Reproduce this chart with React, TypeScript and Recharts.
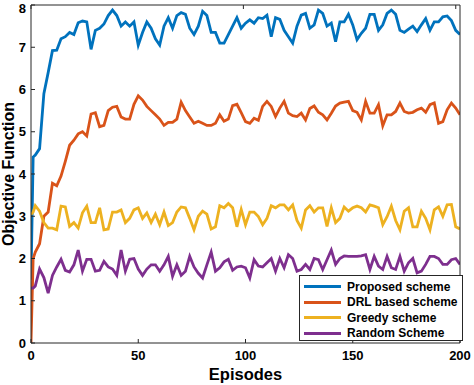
import { LineChart, Line, XAxis, YAxis, Legend } from 'recharts'

const FONT = '"Liberation Sans", Arial, Helvetica, sans-serif'
const AXIS = '#262626'

// episode index of every sample (first episodes, then every 2nd one)
const episodes = [0, 1, ...Array.from({ length: 100 }, (_, i) => 2 * (i + 1))]

const proposed = [
  1.5, 4.4, 4.45, 4.6, 5.9, 6.4, 6.92, 6.93, 7.2, 7.25,
  7.35, 7.3, 7.58, 7.62, 7.6, 6.95, 7.4, 7.45, 7.55, 7.75,
  7.88, 7.75, 7.5, 7.6, 7.5, 7.6, 7.05, 7.35, 7.6, 7.45,
  7.2, 7.05, 7.5, 7.7, 7.45, 7.75, 7.82, 7.78, 7.45, 7.3,
  7.5, 7.85, 7.75, 7.35, 7.35, 7.1, 7.1, 7.3, 7.5, 7.7,
  7.45,
  7.57, 7.65, 7.57, 7.7, 7.68, 7.76, 7.25, 7.7, 7.66, 7.4,
  7.25, 7.1, 7.5, 7.76, 7.8, 7.45, 7.53, 7.88, 7.8, 7.5,
  7.57, 7.13, 7.6, 7.6, 7.78, 7.53, 7.18, 7.33, 7.45, 7.78,
  7.78, 7.4, 7.53, 7.8, 7.88, 7.78, 7.4, 7.35, 7.43, 7.5,
  7.37, 7.53, 7.68, 7.4, 7.6, 7.6, 7.72, 7.74, 7.63, 7.4,
  7.3,
]

const drl = [
  0, 2.0, 2.15, 2.35, 3.0, 3.1, 3.78, 3.72, 3.95, 4.3,
  4.68, 4.8, 4.95, 5.0, 4.9, 5.42, 5.45, 5.12, 5.15, 5.5,
  5.58, 5.6, 5.35, 5.3, 5.3, 5.65, 5.85, 5.75, 5.6, 5.5,
  5.4, 5.3, 5.15, 5.22, 5.22, 5.3, 5.7, 5.5, 5.35, 5.2,
  5.25, 5.2, 5.15, 5.15, 5.2, 5.4, 5.25, 5.3, 5.62, 5.65,
  5.45,
  5.24, 5.2, 5.32, 5.27, 5.6, 5.72, 5.6, 5.36, 5.56, 5.72,
  5.44, 5.38, 5.36, 5.44, 5.28, 5.55, 5.61, 5.46, 5.4, 5.28,
  5.44, 5.61, 5.68, 5.7, 5.72, 5.5, 5.46, 5.28, 5.72, 5.44,
  5.44, 5.64, 5.14, 5.4, 5.4, 5.48, 5.68, 5.48, 5.44, 5.46,
  5.52, 5.56, 5.46, 5.64, 5.68, 5.2, 5.24, 5.52, 5.68, 5.56,
  5.4,
]

const greedy = [
  3.04, 3.1, 3.25, 3.12, 2.85, 2.72, 2.72, 2.68, 3.24, 3.22,
  2.76, 2.85, 2.72, 3.08, 3.24, 2.85, 2.85, 3.2, 2.68, 2.7,
  3.1, 3.1, 3.15, 2.85, 2.95, 3.15, 3.2, 2.95, 3.08, 2.85,
  3.05, 2.8, 3.1, 2.78, 2.85, 3.1, 3.22, 3.2, 2.95, 2.68,
  3.0, 3.12, 3.05, 2.7, 2.75, 3.25, 3.2, 3.3, 3.2, 2.75,
  3.16,
  2.8, 3.1, 3.1, 2.99, 2.8, 2.95, 3.25, 3.2, 3.27, 3.27,
  3.15, 3.27, 2.9, 2.72, 3.15, 3.25, 3.1, 3.2, 3.2, 2.76,
  3.2, 2.85, 2.95, 3.22, 3.12, 3.2, 3.24, 3.2, 3.1, 3.27,
  3.24, 3.2, 2.8, 2.99, 3.24, 2.9, 2.68, 3.12, 3.2, 2.75,
  2.75, 3.12, 2.95, 2.68, 3.15, 3.22, 3.0, 3.27, 3.28, 2.75,
  2.7,
]

const random = [
  1.3, 1.3, 1.35, 1.75, 1.55, 1.18, 1.6, 1.8, 1.98, 1.72,
  1.68, 1.85, 2.2, 1.7, 1.98, 1.98, 1.7, 1.72, 1.93, 1.8,
  1.75, 1.6, 2.2, 1.7, 1.98, 2.0, 1.75, 1.6, 1.75, 1.85,
  1.85, 1.7, 1.85, 2.05, 1.58, 1.85, 1.6, 1.7, 2.05, 1.8,
  1.65, 1.54, 1.85, 2.15, 1.7, 1.78, 1.92, 1.98, 1.72, 1.8,
  1.82,
  1.78, 1.54, 1.97, 1.82, 1.8, 1.9, 2.0, 1.7, 2.0, 1.78,
  2.09, 2.0, 1.7, 1.74, 1.86, 1.74, 2.0, 1.97, 1.74, 1.97,
  2.2, 1.86, 2.0, 2.06, 2.05, 2.05, 2.05, 2.06, 2.09, 1.74,
  2.05, 1.82, 1.74, 2.05, 1.78, 1.74, 2.05, 1.7, 1.9, 2.0,
  1.66, 1.7, 1.86, 2.05, 2.05, 2.0, 1.86, 1.86, 1.97, 2.0,
  1.86,
]

const seriesNames = ['Proposed scheme', 'DRL based scheme', 'Greedy scheme', 'Random Scheme']
const xTicks = [0, 50, 100, 150, 200]
const yTicks = [0, 1, 2, 3, 4, 5, 6, 7, 8]

const data = episodes.map((ep, i) => ({
  ep,
  proposed: proposed[i],
  drl: drl[i],
  greedy: greedy[i],
  random: random[i],
}))

const tickStyle = { fill: '#000', fontSize: 13, fontWeight: 'bold', fontFamily: FONT }

function LegendBox({ payload }: any) {
  const items = [...(payload ?? [])].sort(
    (a: any, b: any) => seriesNames.indexOf(a.value) - seriesNames.indexOf(b.value),
  )
  return (
    <div
      style={{
        width: 164,
        height: 66,
        boxSizing: 'border-box',
        border: `1px solid ${AXIS}`,
        background: '#fff',
        padding: '3px 0 0 4px',
        overflow: 'hidden',
      }}
    >
      {items.map((p: any) => (
        <div key={p.value} style={{ display: 'flex', alignItems: 'center', height: 15.5 }}>
          <span style={{ width: 37, height: 3, background: p.color, marginRight: 6, flex: 'none' }} />
          <span style={{ font: `bold 12px ${FONT}`, color: '#000', whiteSpace: 'nowrap' }}>{p.value}</span>
        </div>
      ))}
    </div>
  )
}

export default function App() {
  return (
    <div style={{ width: 474, height: 385, background: '#fff' }}>
      <style>{'body{margin:0}'}</style>
      <LineChart width={474} height={385} data={data} margin={{ top: 4, right: 13, bottom: 0, left: 0 }}>
        <XAxis
          dataKey="ep"
          type="number"
          domain={[0, 200]}
          ticks={xTicks}
          allowDataOverflow
          height={42}
          stroke={AXIS}
          tickSize={-4}
          tickMargin={12}
          tick={tickStyle}
          label={() => (
            <text x={245.5} y={380} textAnchor="middle" fontFamily={FONT} fontSize={16.5} fontWeight="bold" fill="#000">
              Episodes
            </text>
          )}
        />
        <XAxis
          xAxisId="top"
          orientation="top"
          type="number"
          domain={[0, 200]}
          ticks={xTicks}
          height={1}
          stroke={AXIS}
          tickSize={-4}
          tickFormatter={() => ''}
        />
        <YAxis
          type="number"
          domain={[0, 8]}
          ticks={yTicks}
          allowDataOverflow
          width={31}
          stroke={AXIS}
          tickSize={-4}
          tickMargin={9}
          tick={tickStyle}
          label={() => (
            <text
              x={14}
              y={174}
              transform="rotate(-90 14 174)"
              textAnchor="middle"
              fontFamily={FONT}
              fontSize={16}
              fontWeight="bold"
              fill="#000"
            >
              Objective Function
            </text>
          )}
        />
        <YAxis
          yAxisId="right"
          orientation="right"
          type="number"
          domain={[0, 8]}
          ticks={yTicks}
          width={1}
          stroke={AXIS}
          tickSize={-4}
          tickFormatter={() => ''}
        />
        <Line name={seriesNames[0]} dataKey="proposed" stroke="#0072BD" strokeWidth={2.8} dot={false} isAnimationActive={false} />
        <Line name={seriesNames[1]} dataKey="drl" stroke="#D95319" strokeWidth={2.8} dot={false} isAnimationActive={false} />
        <Line name={seriesNames[2]} dataKey="greedy" stroke="#EDB120" strokeWidth={2.8} dot={false} isAnimationActive={false} />
        <Line name={seriesNames[3]} dataKey="random" stroke="#7E2F8E" strokeWidth={2.8} dot={false} isAnimationActive={false} />
        <Legend
          layout="vertical"
          align="center"
          verticalAlign="middle"
          content={<LegendBox />}
          wrapperStyle={{ left: 299, top: 275, width: 164, height: 66 }}
        />
      </LineChart>
    </div>
  )
}
